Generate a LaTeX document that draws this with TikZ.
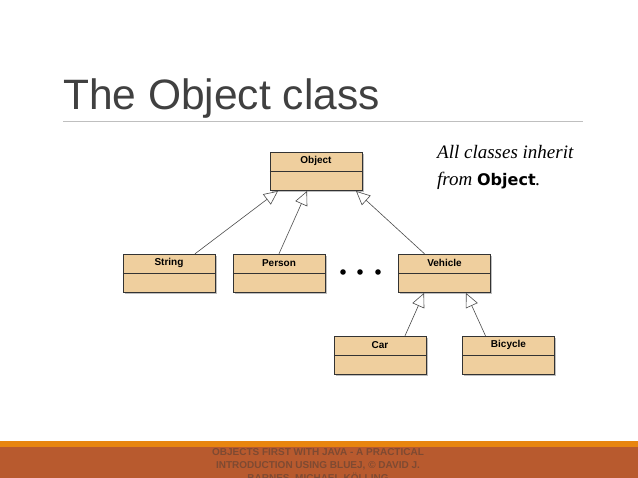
\documentclass[tikz,border=0pt]{standalone}
\usepackage{fontspec}
\setmainfont{Liberation Sans}
\newfontfamily\serifit{Liberation Serif}
\newfontfamily\dvs{DejaVu Sans}
\usetikzlibrary{arrows.meta,shadows}
\definecolor{boxfill}{HTML}{EFCF9E}
\definecolor{band}{HTML}{B85A2E}
\definecolor{bandtop}{HTML}{E8850F}
\definecolor{foot}{HTML}{7E4A32}
\tikzset{
 cls/.style={draw=black!80,fill=boxfill,minimum width=92pt,minimum height=38pt,inner sep=0pt,drop shadow={opacity=0.5,shadow xshift=1.5pt,shadow yshift=-2.5pt}},
 lbl/.style={font=\bfseries\fontsize{10}{11}\selectfont},
 inh/.style={draw=black!70,line width=0.6pt,-{Triangle[open,length=14pt,width=13pt,fill=white]}}
}
\newcommand{\umlcls}[4]{%
 \node[cls] (#1) at (#2,#3) {};
 \draw[black!80] ([yshift=-19pt]#1.north west) -- ([yshift=-19pt]#1.north east);
 \node[lbl] at ([yshift=-9.5pt]#1.north) {#4};}
\begin{document}
\begin{tikzpicture}[x=1pt,y=-1pt]
\useasboundingbox (0,0) rectangle (638,478);
\fill[white] (0,0) rectangle (638,478);
\node[anchor=base west,inner sep=0,font=\fontsize{42.5}{46}\selectfont,text=black!75] (title) at (63,110) {The Object class};
\draw[black!25] (63,121) -- (583,121);
\node[anchor=base west,inner sep=0,font=\serifit\itshape\fontsize{19}{22}\selectfont,align=left] (note) at (437,159) {All classes inherit};
\node[anchor=base west,inner sep=0,font=\serifit\itshape\fontsize{19}{22}\selectfont] (note2) at (437,186) {from {\dvs\upshape\bfseries\fontsize{16}{18}\selectfont Object}.};
\umlcls{obj}{316}{171}{Object}
\umlcls{str}{169}{273}{String}
\umlcls{per}{279}{273}{Person}
\umlcls{veh}{444.5}{273}{Vehicle}
\umlcls{car}{380}{355}{Car}
\umlcls{bic}{508.5}{355}{Bicycle}
\foreach \x in {343,360,378} \fill (\x,272) circle (2.8);
\coordinate (o1) at (278,191); \coordinate (o2) at (307,191); \coordinate (o3) at (356,191);
\coordinate (v1) at (424,293); \coordinate (v2) at (466,293);
\draw[inh] ([xshift=26pt]str.north) -- (o1);
\draw[inh] (per.north) -- (o2);
\draw[inh] ([xshift=-20pt]veh.north) -- (o3);
\draw[inh] ([xshift=25pt]car.north) -- (v1);
\draw[inh] ([xshift=-23pt]bic.north) -- (v2);
\fill[bandtop] (0,441) rectangle (638,447);
\fill[band] (0,447) rectangle (638,478);
\node[font=\bfseries\fontsize{10}{13}\selectfont,text=foot,align=center,anchor=north] (ft) at (318,444.5) {OBJECTS FIRST WITH JAVA - A PRACTICAL\\INTRODUCTION USING BLUEJ, © DAVID J.\\BARNES, MICHAEL KÖLLING};
\end{tikzpicture}
\end{document}
